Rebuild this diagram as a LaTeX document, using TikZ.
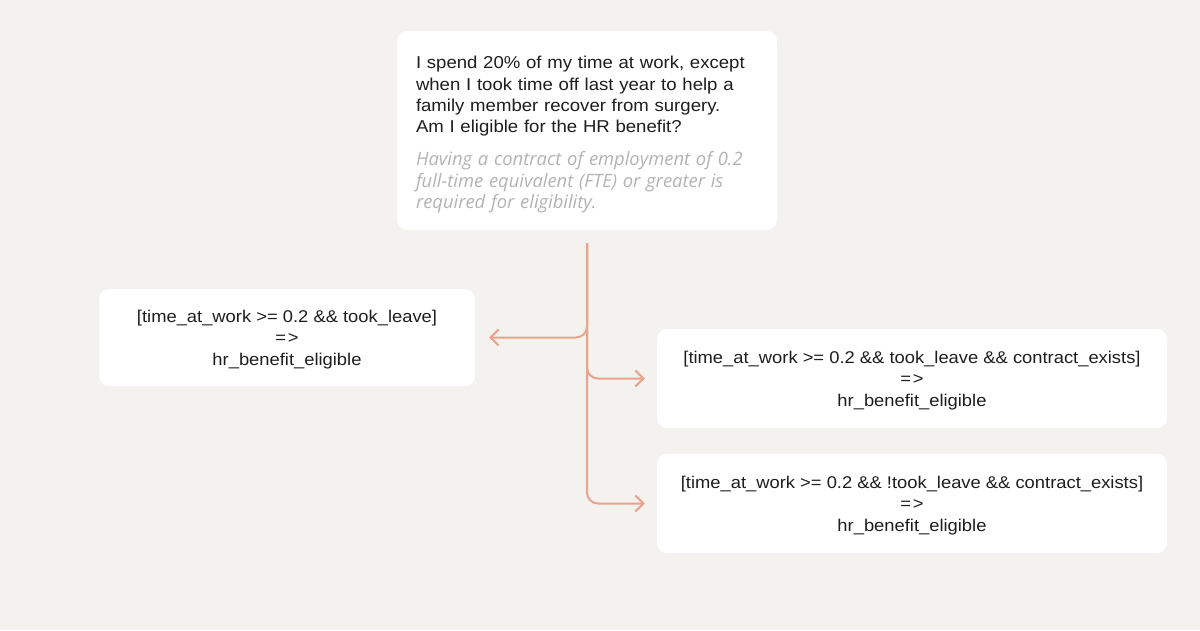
\documentclass[tikz,border=0pt]{standalone}
\usepackage{fontspec}
\setmainfont{Liberation Sans}[FakeStretch=1.08]
\newfontfamily\italfont{Open Sans}
\usetikzlibrary{arrows.meta}
\definecolor{bg}{HTML}{F3F2EF}
\definecolor{conncol}{HTML}{EBA38C}
\definecolor{hintcol}{HTML}{B3B3B3}
\definecolor{txt}{HTML}{1E1E1E}
\begin{document}
\begin{tikzpicture}[x=1pt,y=-1pt,
  card/.style={fill=white, rounded corners=10pt, draw=none, inner sep=0pt,
    align=center, text=txt, font=\fontsize{17}{21.5}\selectfont},
  conn/.style={draw=conncol, line width=2pt, rounded corners=11pt,
    -{Straight Barb[length=8pt,width=16pt,line width=2pt]}}]
\fill[bg] (0,0) rectangle (1200,630);
\useasboundingbox (0,0) rectangle (1200,630);
\node[card, minimum width=380pt, minimum height=199pt, text width=342pt, align=left,
  font=\fontsize{17.2}{21.3}\selectfont] (q) at (587,130.5)
  {\rule{0pt}{21pt}I spend 20\% of my time at work, except\\
   when I took time off last year to help a\\
   family member recover from surgery.\\
   Am I eligible for the HR benefit?\\[11.5pt]
   {\color{hintcol}\italfont\itshape\fontsize{18.4}{21.5}\selectfont Having a contract of employment of 0.2\\
   full-time equivalent (FTE) or greater is\\
   required for eligibility.}};
\node[card, minimum width=376pt, minimum height=97pt] (r1) at (287,337.5)
  {\rule{0pt}{16pt}[time\_at\_work >= 0.2 \&\& took\_leave]\\=\kern2pt>\\hr\_benefit\_eligible};
\node[card, minimum width=510pt, minimum height=99pt] (r2) at (912,378.5)
  {\rule{0pt}{16pt}[time\_at\_work >= 0.2 \&\& took\_leave \&\& contract\_exists]\\=\kern2pt>\\hr\_benefit\_eligible};
\node[card, minimum width=510pt, minimum height=99pt] (r3) at (912,503.5)
  {\rule{0pt}{16pt}[time\_at\_work >= 0.2 \&\& !took\_leave \&\& contract\_exists]\\=\kern2pt>\\hr\_benefit\_eligible};
\coordinate (trunk) at ([yshift=-13pt]q.south);
\draw[conn] (trunk) |- ([xshift=14pt]r1.east);
\draw[conn] (trunk) |- ([xshift=-12pt]r2.west);
\draw[conn] (trunk) |- ([xshift=-12pt]r3.west);
\end{tikzpicture}
\end{document}
